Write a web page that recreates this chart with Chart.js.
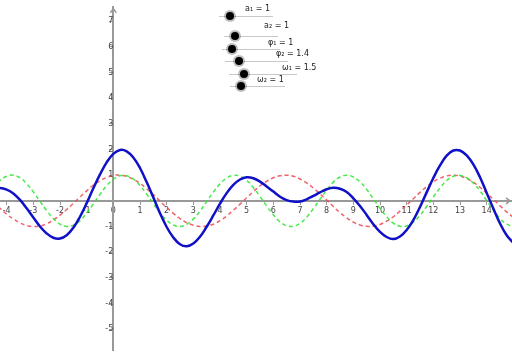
<!DOCTYPE html>
<html>
<head>
<meta charset="utf-8">
<script src="https://cdn.jsdelivr.net/npm/chart.js@4.4.1/dist/chart.umd.min.js"></script>
<style>
  html, body { margin: 0; padding: 0; background: #fff; }
  canvas { display: block; }
</style>
</head>
<body>
<canvas id="chart" width="512" height="357"></canvas>
<script>
const xs = [
  -4.5, -4.25, -4, -3.75, -3.5, -3.25, -3, -2.75, -2.5, -2.25, -2, -1.75, -1.5, -1.25, -1, -0.75,
  -0.5, -0.25, 0, 0.25, 0.5, 0.75, 1, 1.25, 1.5, 1.75, 2, 2.25, 2.5, 2.75, 3, 3.25,
  3.5, 3.75, 4, 4.25, 4.5, 4.75, 5, 5.25, 5.5, 5.75, 6, 6.25, 6.5, 6.75, 7, 7.25,
  7.5, 7.75, 8, 8.25, 8.5, 8.75, 9, 9.25, 9.5, 9.75, 10, 10.25, 10.5, 10.75, 11, 11.25,
  11.5, 11.75, 12, 12.25, 12.5, 12.75, 13, 13.25, 13.5, 13.75, 14, 14.25, 14.5, 14.75, 15
];
// red dashed curve
const redY = [
  -0.04, -0.29, -0.52, -0.71, -0.86, -0.96, -1.00, -0.98, -0.89, -0.75, -0.56, -0.34, -0.10, 0.15, 0.39, 0.61,
  0.78, 0.91, 0.99, 1.00, 0.95, 0.84, 0.68, 0.47, 0.24, -0.01, -0.26, -0.49, -0.69, -0.85, -0.95, -1.00,
  -0.98, -0.91, -0.77, -0.59, -0.37, -0.13, 0.12, 0.36, 0.58, 0.76, 0.90, 0.98, 1.00, 0.96, 0.85, 0.70,
  0.50, 0.27, 0.03, -0.22, -0.46, -0.66, -0.83, -0.94, -0.99, -0.99, -0.92, -0.79, -0.62, -0.40, -0.16, 0.08,
  0.33, 0.55, 0.74, 0.88, 0.97, 1.00, 0.97, 0.87, 0.73, 0.53, 0.30, 0.06, -0.19, -0.43, -0.64
];
// green dashed curve
const greenY = [
  0.51, 0.79, 0.96, 1.00, 0.90, 0.67, 0.35, -0.02, -0.38, -0.69, -0.91, -1.00, -0.95, -0.77, -0.48, -0.12,
  0.25, 0.59, 0.84, 0.98, 0.98, 0.85, 0.60, 0.26, -0.11, -0.47, -0.76, -0.94, -1.00, -0.92, -0.71, -0.40,
  -0.03, 0.34, 0.66, 0.89, 0.99, 0.96, 0.80, 0.52, 0.17, -0.20, -0.54, -0.82, -0.97, -0.99, -0.88, -0.64,
  -0.31, 0.06, 0.42, 0.73, 0.93, 1.00, 0.93, 0.74, 0.44, 0.08, -0.29, -0.62, -0.87, -0.99, -0.98, -0.83,
  -0.57, -0.22, 0.15, 0.50, 0.79, 0.96, 0.99, 0.90, 0.69, 0.39, 0.01, -0.36, -0.69, -0.91, -1.00
];
// blue solid curve
const blueY = [
  0.47, 0.50, 0.44, 0.29, 0.04, -0.29, -0.65, -1.00, -1.27, -1.44, -1.47, -1.34, -1.05, -0.62, -0.09, 0.49,
  1.03, 1.50, 1.83, 1.98, 1.93, 1.69, 1.28, 0.73, 0.13, -0.48, -1.02, -1.43, -1.69, -1.77, -1.66, -1.40,
  -1.01, -0.57, -0.11, 0.30, 0.62, 0.83, 0.92, 0.88, 0.75, 0.56, 0.36, 0.16, 0.03, -0.03, -0.03, 0.06,
  0.19, 0.33, 0.45, 0.51, 0.47, 0.34, 0.10, -0.20, -0.55, -0.91, -1.21, -1.41, -1.49, -1.39, -1.14, -0.75,
  -0.24, 0.33, 0.89, 1.38, 1.76, 1.96, 1.96, 1.77, 1.42, 0.92, 0.31, -0.30, -0.88, -1.34, -1.64
];
// slider labels: name, subscript, value
const sliderNames = ['a', 'a', 'φ', 'φ', 'ω', 'ω'];
const sliderSubs = ['₁', '₂', '₁', '₂', '₁', '₂'];
const sliderValues = ['1', '1', '1', '1.4', '1.5', '1'];

const pts = ys => xs.map((x, i) => ({ x: x, y: ys[i] }));

// the sliders in the top middle (line, knob, caption)
const sliderLayout = [
  { x1: 219, x2: 273, y: 16, knob: 230, lx: 245, ly: 9 },
  { x1: 224, x2: 278, y: 36, knob: 235, lx: 264, ly: 26 },
  { x1: 222, x2: 280, y: 49, knob: 232, lx: 268, ly: 43 },
  { x1: 225, x2: 288, y: 61, knob: 239, lx: 276, ly: 54 },
  { x1: 229, x2: 297, y: 74, knob: 244, lx: 282, ly: 68 },
  { x1: 230, x2: 285, y: 86, knob: 241, lx: 257, ly: 80 }
];

const sliders = {
  id: 'sliders',
  afterDraw(chart) {
    const ctx = chart.ctx;
    ctx.save();
    sliderLayout.forEach((s, i) => {
      ctx.strokeStyle = '#c8c8c8';
      ctx.lineWidth = 1;
      ctx.beginPath();
      ctx.moveTo(s.x1, s.y + 0.5);
      ctx.lineTo(s.x2, s.y + 0.5);
      ctx.stroke();
      ctx.fillStyle = 'rgba(0,0,0,0.25)';
      ctx.beginPath();
      ctx.arc(s.knob, s.y, 6, 0, Math.PI * 2);
      ctx.fill();
      ctx.fillStyle = '#000';
      ctx.beginPath();
      ctx.arc(s.knob, s.y, 4, 0, Math.PI * 2);
      ctx.fill();
      ctx.fillStyle = '#222';
      ctx.font = '8px "DejaVu Sans"';
      ctx.textBaseline = 'middle';
      ctx.fillText(sliderNames[i] + sliderSubs[i] + ' = ' + sliderValues[i], s.lx, s.ly);
    });
    // axis arrows
    const xa = chart.scales.x, ya = chart.scales.y;
    const ox = xa.getPixelForValue(0), oy = ya.getPixelForValue(0);
    ctx.strokeStyle = '#999';
    ctx.lineWidth = 1.5;
    ctx.beginPath();
    ctx.moveTo(chart.chartArea.right - 6, oy - 3);
    ctx.lineTo(chart.chartArea.right - 2, oy);
    ctx.lineTo(chart.chartArea.right - 6, oy + 3);
    ctx.moveTo(ox - 3, chart.chartArea.top + 6);
    ctx.lineTo(ox, chart.chartArea.top + 2);
    ctx.lineTo(ox + 3, chart.chartArea.top + 6);
    ctx.stroke();
    ctx.restore();
  }
};

new Chart(document.getElementById('chart'), {
  type: 'line',
  data: {
    datasets: [
      {
        label: 'blue',
        data: pts(blueY),
        borderColor: '#1010c8',
        borderWidth: 2.5,
        pointRadius: 0,
        tension: 0.4,
        fill: false
      },
      {
        label: 'green',
        data: pts(greenY),
        borderColor: 'rgba(40,230,40,0.85)',
        borderWidth: 1.5,
        borderDash: [4, 3],
        pointRadius: 0,
        tension: 0.4,
        fill: false
      },
      {
        label: 'red',
        data: pts(redY),
        borderColor: 'rgba(240,70,80,0.85)',
        borderWidth: 1.5,
        borderDash: [4, 3],
        pointRadius: 0,
        tension: 0.4,
        fill: false
      }
    ]
  },
  options: {
    responsive: false,
    animation: false,
    layout: { padding: 0 },
    plugins: { legend: { display: false }, tooltip: { enabled: false } },
    scales: {
      x: {
        type: 'linear',
        min: -4.25,
        max: 14.95,
        position: { y: 0 },
        grid: { drawOnChartArea: false, tickLength: 3, color: '#999' },
        border: { color: '#999', width: 2 },
        ticks: {
          stepSize: 1, includeBounds: false, autoSkip: false, maxRotation: 0,
          padding: 2, color: '#444', font: { size: 8, family: 'DejaVu Sans' }
        }
      },
      y: {
        type: 'linear',
        min: -5.82,
        max: 7.56,
        position: { x: 0 },
        grid: { drawOnChartArea: false, tickLength: 3, color: '#999' },
        border: { color: '#999', width: 2 },
        ticks: {
          stepSize: 1, includeBounds: false, autoSkip: false,
          padding: 2, color: '#444', font: { size: 8, family: 'DejaVu Sans' },
          callback: v => (v === 0 ? '' : v)
        }
      }
    }
  },
  plugins: [sliders]
});
</script>
</body>
</html>
